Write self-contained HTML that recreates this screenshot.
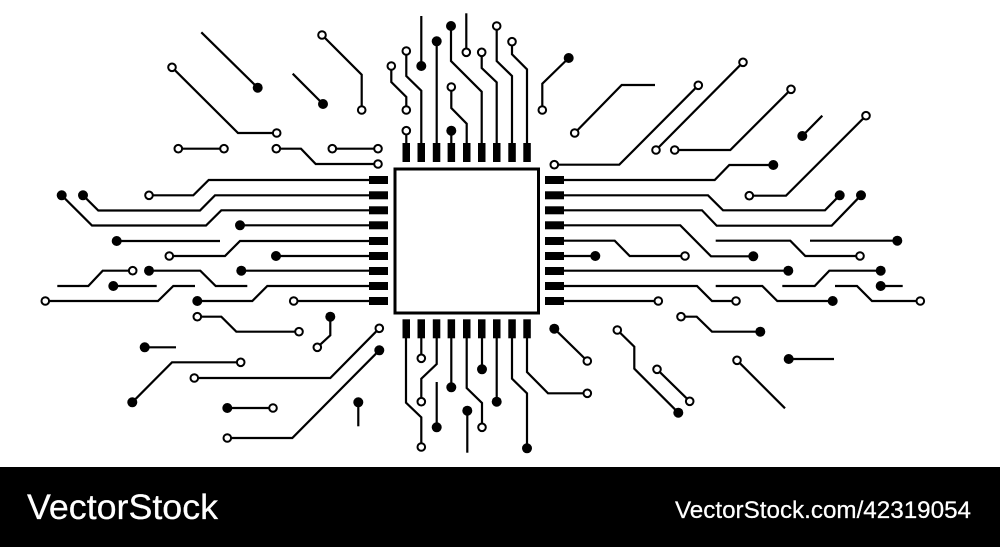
<!DOCTYPE html>
<html><head><meta charset="utf-8"><style>
html,body{margin:0;padding:0;background:#fff}
svg{display:block}
path{fill:none;stroke:#000;stroke-width:2.2}
.o{fill:#fff;stroke:#000;stroke-width:2}
.o circle{r:3.8px}
.f{fill:#000}
.f circle{r:5px}
text{font-family:"Liberation Sans",sans-serif;fill:#fff;stroke:#fff;stroke-width:.25}
</style></head><body>
<svg width="1000" height="547" viewBox="0 0 1000 547" xmlns="http://www.w3.org/2000/svg">
<rect width="1000" height="547" fill="#fff"/>
<rect x="395" y="169" width="143.5" height="144" fill="#fff" stroke="#000" stroke-width="3"/>
<g fill="#000">
<rect x="369" y="176" width="19" height="8"/><rect x="369" y="191.300" width="19" height="8"/><rect x="369" y="206.300" width="19" height="8"/><rect x="369" y="221.300" width="19" height="8"/><rect x="369" y="237" width="19" height="8"/><rect x="369" y="252" width="19" height="8"/><rect x="369" y="267" width="19" height="8"/><rect x="369" y="282" width="19" height="8"/><rect x="369" y="297" width="19" height="8"/>
<rect x="545" y="176" width="19" height="8"/><rect x="545" y="191.300" width="19" height="8"/><rect x="545" y="206.300" width="19" height="8"/><rect x="545" y="221.300" width="19" height="8"/><rect x="545" y="237" width="19" height="8"/><rect x="545" y="252" width="19" height="8"/><rect x="545" y="267" width="19" height="8"/><rect x="545" y="282" width="19" height="8"/><rect x="545" y="297" width="19" height="8"/>
<rect x="402.500" y="143" width="7.500" height="19"/><rect x="417.500" y="143" width="7.500" height="19"/><rect x="432.800" y="143" width="7.500" height="19"/><rect x="447.600" y="143" width="7.500" height="19"/><rect x="463" y="143" width="7.500" height="19"/><rect x="478" y="143" width="7.500" height="19"/><rect x="493" y="143" width="7.500" height="19"/><rect x="508.300" y="143" width="7.500" height="19"/><rect x="523.300" y="143" width="7.500" height="19"/>
<rect x="402.500" y="319.300" width="7.500" height="19"/><rect x="417.500" y="319.300" width="7.500" height="19"/><rect x="432.800" y="319.300" width="7.500" height="19"/><rect x="447.600" y="319.300" width="7.500" height="19"/><rect x="463" y="319.300" width="7.500" height="19"/><rect x="478" y="319.300" width="7.500" height="19"/><rect x="493" y="319.300" width="7.500" height="19"/><rect x="508.300" y="319.300" width="7.500" height="19"/><rect x="523.300" y="319.300" width="7.500" height="19"/>
</g>
<g>
<path d="M201.300 32.300L257.700 87.700"/>
<path d="M172 67.300L238 133H276.700"/>
<path d="M292.700 73.700L323 104"/>
<path d="M322 35L361.700 74.700V110"/>
<path d="M178.300 148.700H224"/>
<path d="M276.300 148.700H301L315.700 164H378"/>
<path d="M332.300 148.700H378"/>
<path d="M149 195.300H193.300L208.700 180H369"/>
<path d="M83 195.300L98.300 210.500H200L215 195.300H369"/>
<path d="M61.700 195.300L92 225.500H206L221.300 210.300H369"/>
<path d="M240 225.300H369"/>
<path d="M116.700 241H220"/>
<path d="M169.300 256H225L240 241H369"/>
<path d="M276 256H369"/>
<path d="M132.700 270.700H102.700L88.300 286H57.300"/>
<path d="M149 270.700H200.300L215.700 286H247.300"/>
<path d="M241.300 270.700H369"/>
<path d="M113.300 286H156.700"/>
<path d="M45.300 301H158L173.300 286H195"/>
<path d="M197.300 301H252.300L267.300 286H369"/>
<path d="M293.700 301H369"/>
<path d="M197.300 316.700H221.300L236.300 331.700H299"/>
<path d="M330.300 316.700V335.300L317.300 347.300"/>
<path d="M144.700 347.300H176"/>
<path d="M132.300 402.300L172 362.300H240.700"/>
<path d="M194.300 378H330.300L379.300 328.300"/>
<path d="M379.300 350.300L292.300 438H227.300"/>
<path d="M227.300 408H273"/>
<path d="M358.300 402.300V426.300"/>
<path d="M391.300 66V82L406.300 97V110"/>
<path d="M406.300 51V76L421.300 90.700V143"/>
<path d="M421.300 66V16"/>
<path d="M406.300 130.700V143"/>
<path d="M436.700 41.300V143"/>
<path d="M451 26V61L481.700 91.700V143"/>
<path d="M466.300 13.300V52.300"/>
<path d="M451.300 87V108L466.700 123.700V143"/>
<path d="M451.300 130.700V143"/>
<path d="M481.700 52.300V68L496.700 82.300V143"/>
<path d="M496.700 26V61L512 76V143"/>
<path d="M512 41.700V54.300L527 69.300V143"/>
<path d="M568.700 58L542.300 83.700V110"/>
<path d="M406 338V402.700L421.300 417.300V447"/>
<path d="M421.300 338V358.300"/>
<path d="M436.700 338V364L421.300 378.700V401.700"/>
<path d="M436.700 382V427.300"/>
<path d="M451.300 338V387.300"/>
<path d="M466.700 338V388L482 403V427.300"/>
<path d="M467.300 410.700V452.700"/>
<path d="M482 338V369.300"/>
<path d="M496.700 338V401.700"/>
<path d="M512 338V378.700L527 393.300V448.300"/>
<path d="M527 338V372L548 393.300H587.300"/>
<path d="M554.300 328.700L587.300 361"/>
<path d="M574.700 133L621.700 85H655"/>
<path d="M554.300 164.700H619.300L698.300 85.300"/>
<path d="M656 150L743 62.300"/>
<path d="M674.700 150H730.300L791 89.300"/>
<path d="M802.300 136L822.300 115.700"/>
<path d="M749.300 195.700H786L866 115.700"/>
<path d="M564 180H714.700L729.300 165H773.300"/>
<path d="M564 195.300H708L723 210.300H825L839.700 195.300"/>
<path d="M564 210.300H702L716.700 225.700H831.700L861 195.300"/>
<path d="M564 225.300H680.300L711 256.300H753.300"/>
<path d="M564 240.700H614.700L629.700 256H685"/>
<path d="M564 256H595.300"/>
<path d="M715.700 240.700H790.300L805.300 256H860"/>
<path d="M810 240.700H897.300"/>
<path d="M564 270.700H788.300"/>
<path d="M782.300 286H814.700L829.300 270.700H880.700"/>
<path d="M564 286H697L712 301H736"/>
<path d="M715.700 286H762.300L777.300 301H832.700"/>
<path d="M880.700 286H902.700"/>
<path d="M835 286H857L872 301H920.300"/>
<path d="M564 301H658.300"/>
<path d="M681 316.700H696.700L712 331.700H760.300"/>
<path d="M617.300 330L634.300 346.700V368.700L678.300 412.700"/>
<path d="M657 369.300L689.700 401.300"/>
<path d="M737 360.300L785 408.300"/>
<path d="M788.700 359H834"/>
</g>
<g class="f">
<circle cx="257.700" cy="87.700" r="4.800"/><circle cx="323" cy="104" r="4.800"/><circle cx="83" cy="195.300" r="4.800"/><circle cx="61.700" cy="195.300" r="4.800"/><circle cx="240" cy="225.300" r="4.800"/><circle cx="116.700" cy="241" r="4.800"/><circle cx="276" cy="256" r="4.800"/><circle cx="149" cy="270.700" r="4.800"/><circle cx="241.300" cy="270.700" r="4.800"/><circle cx="113.300" cy="286" r="4.800"/><circle cx="197.300" cy="301" r="4.800"/><circle cx="330.300" cy="316.700" r="4.800"/><circle cx="144.700" cy="347.300" r="4.800"/><circle cx="132.300" cy="402.300" r="4.800"/><circle cx="379.300" cy="350.300" r="4.800"/><circle cx="227.300" cy="408" r="4.800"/><circle cx="358.300" cy="402.300" r="4.800"/>
<circle cx="421.300" cy="66" r="4.800"/><circle cx="436.700" cy="41.300" r="4.800"/><circle cx="451" cy="26" r="4.800"/><circle cx="451.300" cy="130.700" r="4.800"/><circle cx="568.700" cy="58" r="4.800"/>
<circle cx="436.700" cy="427.300" r="4.800"/><circle cx="451.300" cy="387.300" r="4.800"/><circle cx="467.300" cy="410.700" r="4.800"/><circle cx="482" cy="369.300" r="4.800"/><circle cx="496.700" cy="401.700" r="4.800"/><circle cx="527" cy="448.300" r="4.800"/><circle cx="554.300" cy="328.700" r="4.800"/>
<circle cx="802.300" cy="136" r="4.800"/><circle cx="773.300" cy="165" r="4.800"/><circle cx="839.700" cy="195.300" r="4.800"/><circle cx="861" cy="195.300" r="4.800"/><circle cx="753.300" cy="256.300" r="4.800"/><circle cx="595.300" cy="256" r="4.800"/><circle cx="897.300" cy="240.700" r="4.800"/><circle cx="788.300" cy="270.700" r="4.800"/><circle cx="880.700" cy="270.700" r="4.800"/><circle cx="832.700" cy="301" r="4.800"/><circle cx="880.700" cy="286" r="4.800"/><circle cx="760.300" cy="331.700" r="4.800"/><circle cx="678.300" cy="412.700" r="4.800"/><circle cx="788.700" cy="359" r="4.800"/>
</g>
<g class="o">
<circle cx="172" cy="67.300" r="3.600"/><circle cx="276.700" cy="133" r="3.600"/><circle cx="322" cy="35" r="3.600"/><circle cx="361.700" cy="110" r="3.600"/><circle cx="178.300" cy="148.700" r="3.600"/><circle cx="224" cy="148.700" r="3.600"/><circle cx="276.300" cy="148.700" r="3.600"/><circle cx="378" cy="164" r="3.600"/><circle cx="332.300" cy="148.700" r="3.600"/><circle cx="378" cy="148.700" r="3.600"/><circle cx="149" cy="195.300" r="3.600"/><circle cx="169.300" cy="256" r="3.600"/><circle cx="132.700" cy="270.700" r="3.600"/><circle cx="45.300" cy="301" r="3.600"/><circle cx="293.700" cy="301" r="3.600"/><circle cx="197.300" cy="316.700" r="3.600"/><circle cx="299" cy="331.700" r="3.600"/><circle cx="317.300" cy="347.300" r="3.600"/><circle cx="240.700" cy="362.300" r="3.600"/><circle cx="194.300" cy="378" r="3.600"/><circle cx="379.300" cy="328.300" r="3.600"/><circle cx="227.300" cy="438" r="3.600"/><circle cx="273" cy="408" r="3.600"/>
<circle cx="391.300" cy="66" r="3.600"/><circle cx="406.300" cy="110" r="3.600"/><circle cx="406.300" cy="51" r="3.600"/><circle cx="406.300" cy="130.700" r="3.600"/><circle cx="466.300" cy="52.300" r="3.600"/><circle cx="451.300" cy="87" r="3.600"/><circle cx="481.700" cy="52.300" r="3.600"/><circle cx="496.700" cy="26" r="3.600"/><circle cx="512" cy="41.700" r="3.600"/><circle cx="542.300" cy="110" r="3.600"/>
<circle cx="421.300" cy="447" r="3.600"/><circle cx="421.300" cy="358.300" r="3.600"/><circle cx="421.300" cy="401.700" r="3.600"/><circle cx="482" cy="427.300" r="3.600"/><circle cx="587.300" cy="393.300" r="3.600"/><circle cx="587.300" cy="361" r="3.600"/>
<circle cx="574.700" cy="133" r="3.600"/><circle cx="554.300" cy="164.700" r="3.600"/><circle cx="698.300" cy="85.300" r="3.600"/><circle cx="656" cy="150" r="3.600"/><circle cx="743" cy="62.300" r="3.600"/><circle cx="674.700" cy="150" r="3.600"/><circle cx="791" cy="89.300" r="3.600"/><circle cx="749.300" cy="195.700" r="3.600"/><circle cx="866" cy="115.700" r="3.600"/><circle cx="685" cy="256" r="3.600"/><circle cx="860" cy="256" r="3.600"/><circle cx="736" cy="301" r="3.600"/><circle cx="920.300" cy="301" r="3.600"/><circle cx="658.300" cy="301" r="3.600"/><circle cx="681" cy="316.700" r="3.600"/><circle cx="617.300" cy="330" r="3.600"/><circle cx="657" cy="369.300" r="3.600"/><circle cx="689.700" cy="401.300" r="3.600"/><circle cx="737" cy="360.300" r="3.600"/>
</g>
<rect x="0" y="467" width="1000" height="80" fill="#000"/>
<text x="27" y="519" font-size="35.500" textLength="191" lengthAdjust="spacingAndGlyphs">VectorStock</text>
<text x="675" y="518" font-size="24" textLength="296" lengthAdjust="spacingAndGlyphs">VectorStock.com/42319054</text>
</svg>
</body></html>
